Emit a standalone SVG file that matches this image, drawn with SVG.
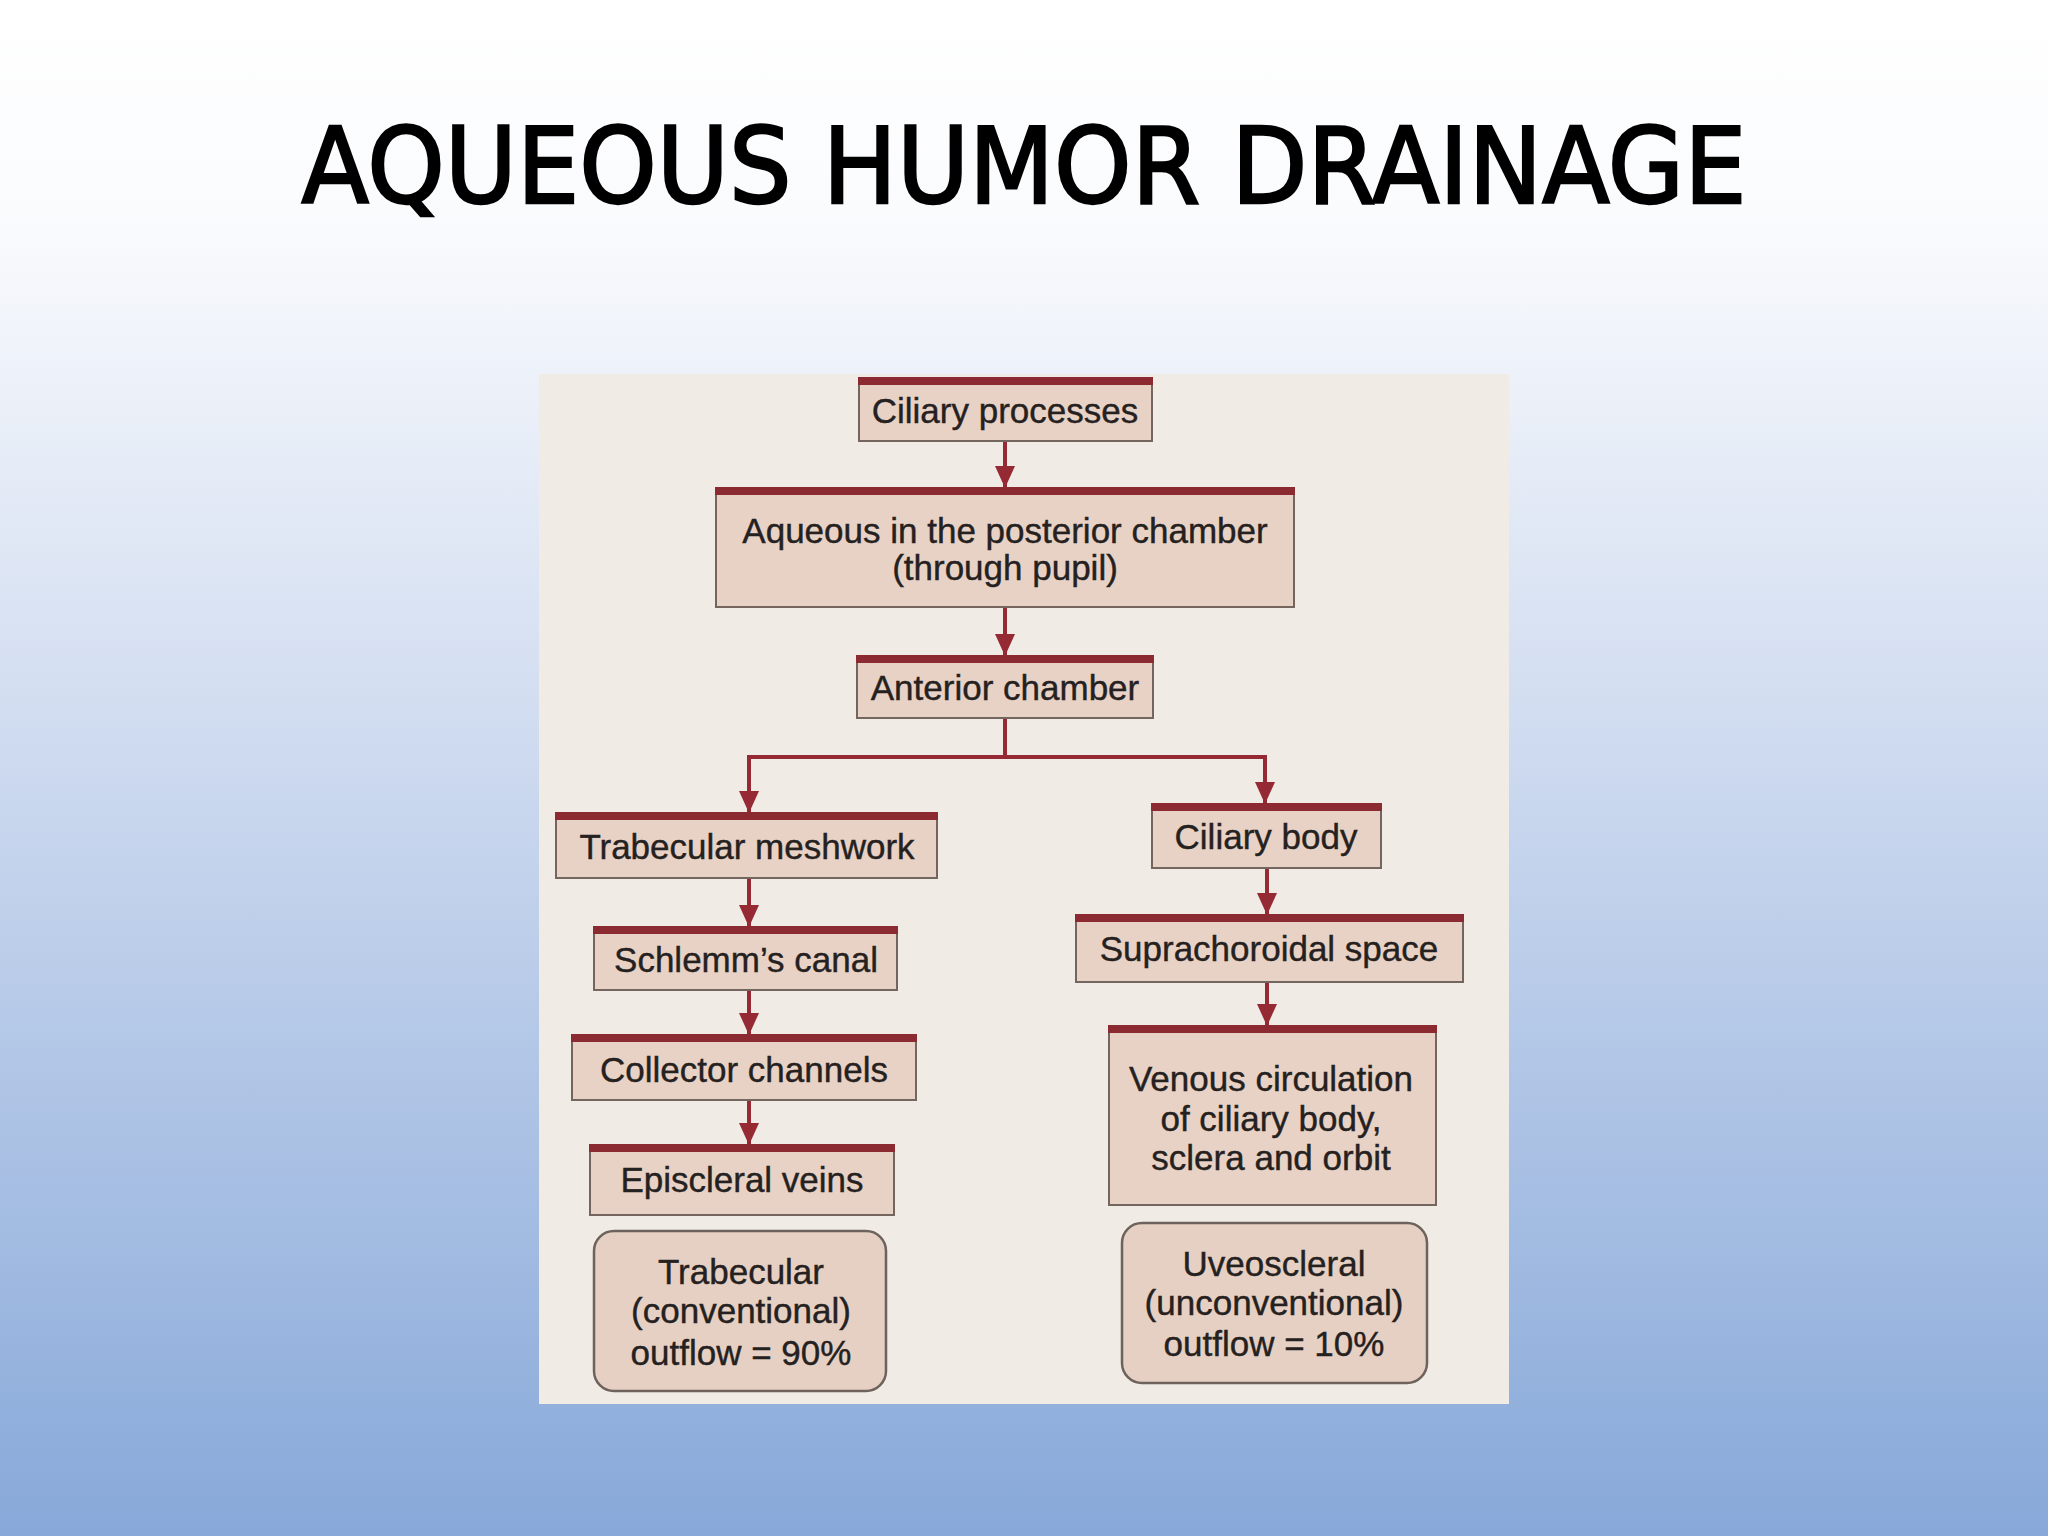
<svg xmlns="http://www.w3.org/2000/svg" width="2048" height="1536" viewBox="0 0 2048 1536">
<defs>
<linearGradient id="bg" x1="0" y1="0" x2="0" y2="1">
<stop offset="0" stop-color="#ffffff"/>
<stop offset="0.14" stop-color="#fafbfd"/>
<stop offset="0.45" stop-color="#d3def1"/>
<stop offset="1" stop-color="#87a8d9"/>
</linearGradient>
<marker id="ah" markerUnits="userSpaceOnUse" markerWidth="24" markerHeight="20" refX="22" refY="10" orient="auto">
<path d="M0,0 L22,10 L0,20 z" fill="#952a34"/>
</marker>
<style>
.box{fill:#e8d2c5;stroke:#74665f;stroke-width:2}
.rbox{fill:#e6d0c3;stroke:#6e625c;stroke-width:2.5}
.bar{fill:#8c2a31}
.t{font-family:"Liberation Sans",Arial,sans-serif;font-size:35px;fill:#252120;stroke:#252120;stroke-width:0.4;text-anchor:middle}
.c{fill:none;stroke:#952a34;stroke-width:4}
</style>
</defs>
<rect x="0" y="0" width="2048" height="1536" fill="url(#bg)"/>
<text x="1024" y="203" text-anchor="middle" font-family="DejaVu Sans, sans-serif" font-size="105" fill="#000" stroke="#000" stroke-width="2.5" textLength="1445" lengthAdjust="spacingAndGlyphs">AQUEOUS HUMOR DRAINAGE</text>
<rect x="539" y="374" width="970" height="1030" fill="#f1ebe5"/>

<g id="connectors">
<path class="c" d="M1005 441 V488" marker-end="url(#ah)"/>
<path class="c" d="M1005 607 V656" marker-end="url(#ah)"/>
<path class="c" d="M1005 718 V757"/>
<path class="c" d="M747 757 H1267"/>
<path class="c" d="M749 757 V813" marker-end="url(#ah)"/>
<path class="c" d="M1265 757 V804" marker-end="url(#ah)"/>
<path class="c" d="M749 878 V927" marker-end="url(#ah)"/>
<path class="c" d="M749 990 V1035" marker-end="url(#ah)"/>
<path class="c" d="M749 1100 V1145" marker-end="url(#ah)"/>
<path class="c" d="M1267 868 V915" marker-end="url(#ah)"/>
<path class="c" d="M1267 982 V1026" marker-end="url(#ah)"/>
</g>

<g id="ciliary-processes">
<rect class="box" x="859" y="378" width="293" height="63"/>
<rect class="bar" x="858" y="377" width="295" height="8"/>
<text class="t" x="1005" y="423">Ciliary processes</text>
</g>
<g id="posterior-chamber">
<rect class="box" x="716" y="488" width="578" height="119"/>
<rect class="bar" x="715" y="487" width="580" height="8"/>
<text class="t" x="1005" y="543">Aqueous in the posterior chamber</text>
<text class="t" x="1005" y="580">(through pupil)</text>
</g>
<g id="anterior-chamber">
<rect class="box" x="857" y="656" width="296" height="62"/>
<rect class="bar" x="856" y="655" width="298" height="8"/>
<text class="t" x="1005" y="700">Anterior chamber</text>
</g>
<g id="trabecular-meshwork">
<rect class="box" x="556" y="813" width="381" height="65"/>
<rect class="bar" x="555" y="812" width="383" height="8"/>
<text class="t" x="747" y="859">Trabecular meshwork</text>
</g>
<g id="ciliary-body">
<rect class="box" x="1152" y="804" width="229" height="64"/>
<rect class="bar" x="1151" y="803" width="231" height="8"/>
<text class="t" x="1266" y="849">Ciliary body</text>
</g>
<g id="schlemms-canal">
<rect class="box" x="594" y="927" width="303" height="63"/>
<rect class="bar" x="593" y="926" width="305" height="8"/>
<text class="t" x="746" y="972">Schlemm’s canal</text>
</g>
<g id="suprachoroidal-space">
<rect class="box" x="1076" y="915" width="387" height="67"/>
<rect class="bar" x="1075" y="914" width="389" height="8"/>
<text class="t" x="1269" y="961">Suprachoroidal space</text>
</g>
<g id="collector-channels">
<rect class="box" x="572" y="1035" width="344" height="65"/>
<rect class="bar" x="571" y="1034" width="346" height="8"/>
<text class="t" x="744" y="1082">Collector channels</text>
</g>
<g id="venous-circulation">
<rect class="box" x="1109" y="1026" width="327" height="179"/>
<rect class="bar" x="1108" y="1025" width="329" height="8"/>
<text class="t" x="1271" y="1091">Venous circulation</text>
<text class="t" x="1271" y="1131">of ciliary body,</text>
<text class="t" x="1271" y="1170">sclera and orbit</text>
</g>
<g id="episcleral-veins">
<rect class="box" x="590" y="1145" width="304" height="70"/>
<rect class="bar" x="589" y="1144" width="306" height="8"/>
<text class="t" x="742" y="1192">Episcleral veins</text>
</g>
<g id="trabecular-outflow">
<rect class="rbox" x="594" y="1231" width="292" height="160" rx="20"/>
<text class="t" x="741" y="1284">Trabecular</text>
<text class="t" x="741" y="1323">(conventional)</text>
<text class="t" x="741" y="1365">outflow = 90%</text>
</g>
<g id="uveoscleral-outflow">
<rect class="rbox" x="1122" y="1223" width="305" height="160" rx="20"/>
<text class="t" x="1274" y="1276">Uveoscleral</text>
<text class="t" x="1274" y="1315">(unconventional)</text>
<text class="t" x="1274" y="1356">outflow = 10%</text>
</g>
</svg>
